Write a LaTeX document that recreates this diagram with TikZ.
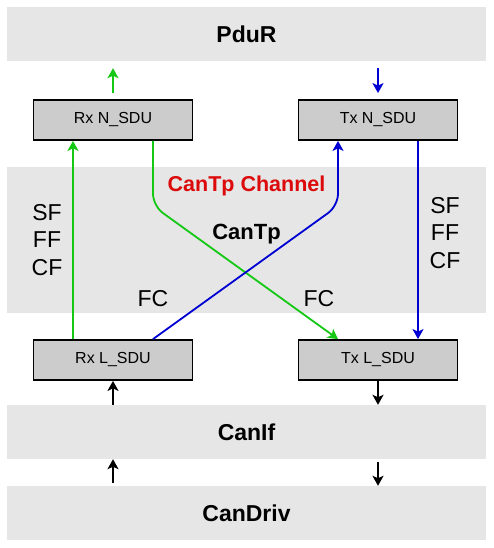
\documentclass[tikz,border=0pt]{standalone}
\usepackage{fontspec}
\setmainfont{Liberation Sans}
\usetikzlibrary{arrows.meta}
\definecolor{bandgray}{RGB}{230,230,230}
\definecolor{boxgray}{RGB}{204,204,204}
\definecolor{rxgreen}{RGB}{20,200,20}
\definecolor{txblue}{RGB}{0,0,210}
\definecolor{chred}{RGB}{220,10,10}
\tikzset{
  band/.style={fill=bandgray, minimum width=479pt, minimum height=54pt, inner sep=0pt,
    font=\fontsize{23}{27}\selectfont\bfseries},
  sdubox/.style={draw=black, line width=1.8pt, fill=boxgray, minimum width=159pt,
    minimum height=40pt, inner sep=0pt, font=\fontsize{16}{18}\selectfont},
  frames/.style={align=center, font=\fontsize{23}{27.7}\selectfont},
  sdutip/.style={-{Stealth[length=10pt,width=11pt,inset=2.5pt]}},
  garrow/.style={draw=rxgreen, line width=1.8pt, sdutip},
  barrow/.style={draw=txblue, line width=1.8pt, sdutip},
  karrow/.style={draw=black, line width=1.8pt, sdutip}
}
\begin{document}
\begin{tikzpicture}[x=1pt,y=-1pt]
\useasboundingbox (0,0) rectangle (494,548);
% layers
\node[band] (pdur) at (246.5,34) {PduR};
\node[band, minimum height=146pt] (cantp) at (246.5,240) {};
\node[band] (canif) at (246.5,432) {CanIf};
\node[band] (candriv) at (246.5,513) {CanDriv};
% sdu boxes
\node[sdubox] (rxn) at (113,120) {Rx N\_SDU};
\node[sdubox] (txn) at (378,120) {Tx N\_SDU};
\node[sdubox] (rxl) at (113,360) {Rx L\_SDU};
\node[sdubox] (txl) at (378,360) {Tx L\_SDU};
% labels
\node[font=\fontsize{21.5}{26}\selectfont\bfseries, text=chred] (chan) at (246.5,186) {CanTp Channel};
\node[font=\fontsize{22}{26}\selectfont\bfseries] (tplabel) at (246.5,234) {CanTp};
\node[frames] (rxframes) at (47,240) {SF\\FF\\CF};
\node[frames] (txframes) at (445,233) {SF\\FF\\CF};
\node[frames] (fcleft) at (153,299) {FC};
\node[frames] (fcright) at (319,299) {FC};
% rx path
\draw[garrow] ([xshift=-40pt]rxl.north) -- ([xshift=-40pt]rxn.south);
\draw[garrow, shorten <=6pt, shorten >=7pt] (rxn.north) -- (rxn.north |- pdur.south);
\draw[garrow, rounded corners=12pt] ([xshift=40pt]rxn.south) -- ([xshift=40pt,yshift=-65pt]rxn.south) -- ([xshift=-40pt]txl.north);
% tx path
\draw[barrow, shorten <=7pt, shorten >=6pt] (txn.north |- pdur.south) -- (txn.north);
\draw[barrow] ([xshift=40pt]txn.south) -- ([xshift=40pt]txl.north);
\draw[barrow, rounded corners=12pt] ([xshift=40pt]rxl.north) -- ([xshift=-40pt,yshift=-65pt]txn.south) -- ([xshift=-40pt]txn.south);
% lower layers
\draw[karrow] (rxl.south |- canif.north) -- (rxl.south);
\draw[karrow] (txl.south) -- (txl.south |- canif.north);
\draw[karrow, shorten <=3pt] (rxl.south |- candriv.north) -- (rxl.south |- canif.south);
\draw[karrow, shorten <=3pt] (txl.south |- canif.south) -- (txl.south |- candriv.north);
\end{tikzpicture}
\end{document}
